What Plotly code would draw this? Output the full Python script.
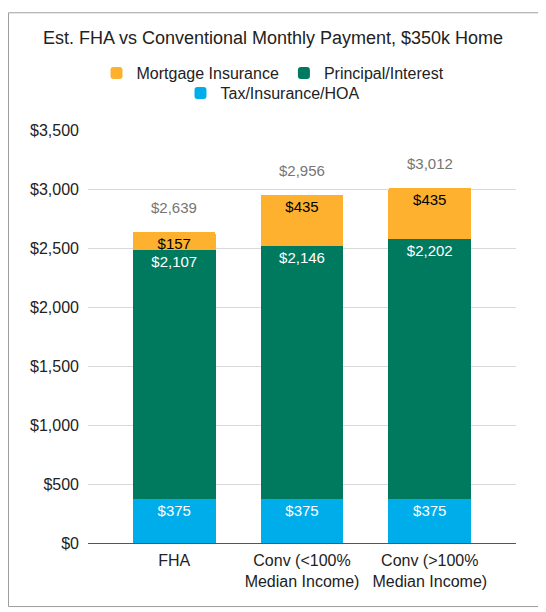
import plotly.graph_objects as go

categories = ["FHA", "Conv (<100%<br>Median Income)", "Conv (>100%<br>Median Income)"]
tax_ins_hoa = [375, 375, 375]
principal_interest = [2107, 2146, 2202]
mortgage_insurance = [157, 435, 435]
y_ticks = [0, 500, 1000, 1500, 2000, 2500, 3000, 3500]

totals = [a + b + c for a, b, c in zip(tax_ins_hoa, principal_interest, mortgage_insurance)]

font_family = "Liberation Sans, Arial, sans-serif"
colors = {"mi": "#FDB12E", "pi": "#007A5F", "tax": "#00ADEB"}


def money(v):
    return "${:,}".format(v)


fig = go.Figure()
series = [
    ("Tax/Insurance/HOA", tax_ins_hoa, colors["tax"], "white", "legend2"),
    ("Principal/Interest", principal_interest, colors["pi"], "white", "legend"),
    ("Mortgage Insurance", mortgage_insurance, colors["mi"], "black", "legend"),
]
for name, vals, col, txtcol, leg in series:
    fig.add_trace(go.Bar(
        x=categories, y=vals, name=name, marker_color=col, marker_line_width=0,
        width=0.646, text=[money(v) for v in vals], textposition="inside",
        insidetextanchor="end", textangle=0,
        insidetextfont=dict(color=txtcol, size=15, family=font_family),
        legend=leg, hoverinfo="skip",
    ))

for cat, t in zip(categories, totals):
    fig.add_annotation(x=cat, y=t, text=money(t), showarrow=False, yanchor="middle",
                       yshift=24, font=dict(color="#757575", size=15, family=font_family))

# chart frame as in the sheet
fig.add_shape(type="rect", xref="paper", yref="paper", x0=-0.1857, x1=1.0638, y0=-0.154, y1=1.2851,
              line=dict(color="#9e9e9e", width=1), layer="below")

fig.update_layout(
    width=546, height=612,
    margin=dict(l=80, r=38, t=119, b=77),
    paper_bgcolor="white", plot_bgcolor="white",
    font=dict(family=font_family, color="#222222", size=16),
    barmode="stack", barcornerradius=2,
    uniformtext=dict(minsize=15, mode="show"),
    title=dict(text="Est. FHA vs Conventional Monthly Payment, $350k Home", x=(273 - 8) / 546,
               xanchor="center", xref="container", y=1 - 30 / 612, yref="container",
               yanchor="middle", font=dict(size=18, color="#222222")),
    legend=dict(orientation="h", xref="container", yref="container", x=(273 - 8) / 546,
                xanchor="center", y=1 - 65 / 612, yanchor="middle", traceorder="reversed",
                bgcolor="rgba(0,0,0,0)", font=dict(size=16)),
    legend2=dict(orientation="h", xref="container", yref="container", x=(273 - 8) / 546,
                 xanchor="center", y=1 - 85 / 612, yanchor="middle",
                 bgcolor="rgba(0,0,0,0)", font=dict(size=16)),
    xaxis=dict(range=[-0.675, 2.675], showgrid=False, showline=False, ticks="",
               ticklabelstandoff=6, tickfont=dict(size=16, color="#222222")),
    yaxis=dict(range=[0, 3500], tickvals=y_ticks, ticktext=[money(v) for v in y_ticks],
               gridcolor="#d9d9d9", gridwidth=1, zeroline=True, zerolinecolor="#555555",
               zerolinewidth=1, showline=False, ticklabelstandoff=8,
               tickfont=dict(size=16, color="#222222")),
)

fig.write_html("out.html")
